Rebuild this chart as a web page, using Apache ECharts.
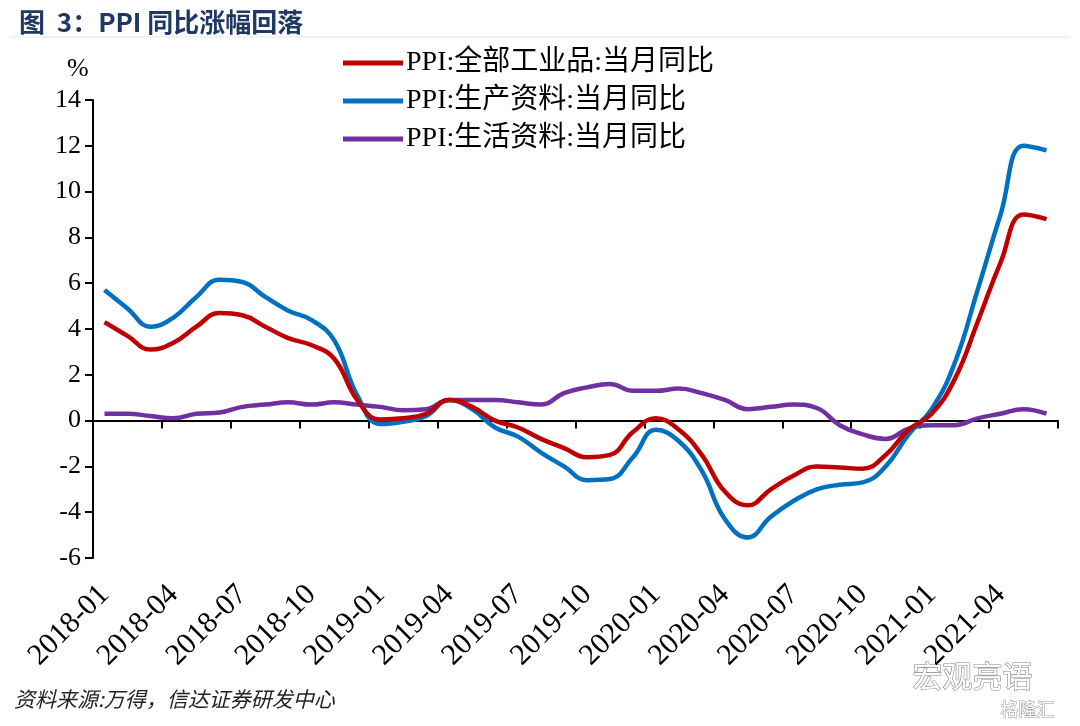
<!DOCTYPE html>
<html>
<head>
<meta charset="utf-8">
<script src="https://cdn.jsdelivr.net/npm/echarts@6/dist/echarts.min.js"></script>
<style>
  html, body { margin: 0; padding: 0; background: #fff; }
  #chart { width: 1080px; height: 726px; }
</style>
</head>
<body>
<div id="chart"></div>
<script>
// months 2018-01 .. 2021-06
var months = [];
for (var y = 2018; y <= 2021; y++) {
  for (var m = 1; m <= 12; m++) {
    if (y === 2021 && m > 6) break;
    months.push(y + '-' + (m < 10 ? '0' + m : m));
  }
}

var ppiAll = [4.3, 3.7, 3.1, 3.4, 4.1, 4.7, 4.6, 4.1, 3.6, 3.3, 2.7, 0.9,
  0.05, 0.1, 0.3, 0.9, 0.6, 0.0, -0.3, -0.8, -1.2, -1.6, -1.5, -0.5,
  0.1, -0.4, -1.5, -3.1, -3.7, -3.0, -2.4, -2.0, -2.05, -2.1, -1.5, -0.4,
  0.3, 1.8, 4.3, 6.9, 9.0, 8.8];

var ppiProducer = [5.7, 4.9, 4.1, 4.5, 5.4, 6.15, 6.05, 5.4, 4.8, 4.4, 3.5, 1.1,
  -0.15, -0.05, 0.2, 0.9, 0.5, -0.3, -0.7, -1.4, -2.0, -2.6, -2.55, -1.6,
  -0.4, -0.9, -2.2, -4.3, -5.1, -4.2, -3.5, -3.0, -2.8, -2.7, -2.0, -0.6,
  0.5, 2.5, 5.7, 9.0, 12.0, 11.8];

var ppiConsumer = [0.3, 0.3, 0.2, 0.1, 0.3, 0.35, 0.6, 0.7, 0.8, 0.7, 0.8, 0.7,
  0.6, 0.45, 0.5, 0.9, 0.9, 0.9, 0.8, 0.7, 1.2, 1.45, 1.6, 1.3,
  1.3, 1.4, 1.2, 0.9, 0.5, 0.6, 0.7, 0.55, -0.2, -0.6, -0.8, -0.35,
  -0.2, -0.2, 0.1, 0.3, 0.5, 0.3];

var seriesNames = ['PPI:全部工业品:当月同比', 'PPI:生产资料:当月同比', 'PPI:生活资料:当月同比'];
var seriesColors = ['#C00000', '#0070C0', '#7030A0'];

var serif = '"Liberation Serif", "Noto Sans CJK SC", serif';

var chart = echarts.init(document.getElementById('chart'));

var option = {
  backgroundColor: '#fff',
  animation: false,
  title: {
    text: '图  3：PPI 同比涨幅回落',
    left: 14,
    top: 4,
    textStyle: {
      fontFamily: '"Noto Sans CJK SC", sans-serif',
      fontWeight: 'bold',
      fontSize: 26,
      color: '#1F3864'
    }
  },
  legend: {
    orient: 'vertical',
    left: 338,
    top: 44,
    itemWidth: 60,
    itemHeight: 5,
    itemGap: 10,
    icon: 'rect',
    data: seriesNames,
    textStyle: {
      fontFamily: serif,
      fontSize: 28,
      color: '#000',
      padding: [0, 0, 0, -2]
    }
  },
  grid: {
    left: 93,
    right: 22,
    top: 100,
    bottom: 168,
    containLabel: false
  },
  xAxis: [{
    type: 'category',
    data: months,
    boundaryGap: true,
    axisLine: { onZero: true, lineStyle: { color: '#000', width: 2 } },
    axisTick: { show: true, interval: 2, length: 8, lineStyle: { color: '#000', width: 2 } },
    axisLabel: { show: false },
    splitLine: { show: false }
  }, {
    type: 'category',
    data: months,
    position: 'bottom',
    boundaryGap: true,
    axisLine: { show: false },
    axisTick: { show: false },
    axisLabel: {
      interval: 2,
      rotate: 45,
      margin: 32,
      fontFamily: serif,
      fontSize: 30,
      color: '#000'
    }
  }],
  yAxis: {
    type: 'value',
    min: -6,
    max: 14,
    interval: 2,
    axisLine: { show: true, lineStyle: { color: '#000', width: 2 } },
    axisTick: { show: true, length: 8, lineStyle: { color: '#000', width: 2 } },
    axisLabel: { margin: 12, fontFamily: serif, fontSize: 26, color: '#000' },
    splitLine: { show: false }
  },
  graphic: [{
    type: 'line',
    shape: { x1: 10, y1: 37, x2: 1070, y2: 37 },
    style: { stroke: '#e6e6e6', lineWidth: 1 }
  }, {
    type: 'text',
    left: 67,
    top: 56,
    style: { text: '%', font: '26px ' + serif, fill: '#000' }
  }, {
    type: 'text',
    left: 14,
    top: 689,
    style: {
      text: '资料来源:万得，信达证券研发中心',
      font: 'italic 21px "Noto Sans CJK SC", sans-serif',
      fill: '#222'
    }
  }, {
    type: 'text',
    left: 912,
    top: 660,
    style: {
      text: '宏观亮语',
      font: '30px "Noto Sans CJK SC", sans-serif',
      fill: '#fff',
      stroke: '#888',
      lineWidth: 1.2
    }
  }, {
    type: 'text',
    left: 1000,
    top: 700,
    style: {
      text: '格隆汇',
      font: '18px "Noto Sans CJK SC", sans-serif',
      fill: '#fff',
      stroke: '#999',
      lineWidth: 1
    }
  }],
  series: [ppiAll, ppiProducer, ppiConsumer].map(function (vals, i) {
    return {
      name: seriesNames[i],
      type: 'line',
      xAxisIndex: 0,
      data: vals,
      smooth: 0.45,
      showSymbol: false,
      symbol: 'none',
      z: 3 - i,
      lineStyle: { color: seriesColors[i], width: 4.5 },
      itemStyle: { color: seriesColors[i] }
    };
  })
};

chart.setOption(option);
</script>
</body>
</html>
